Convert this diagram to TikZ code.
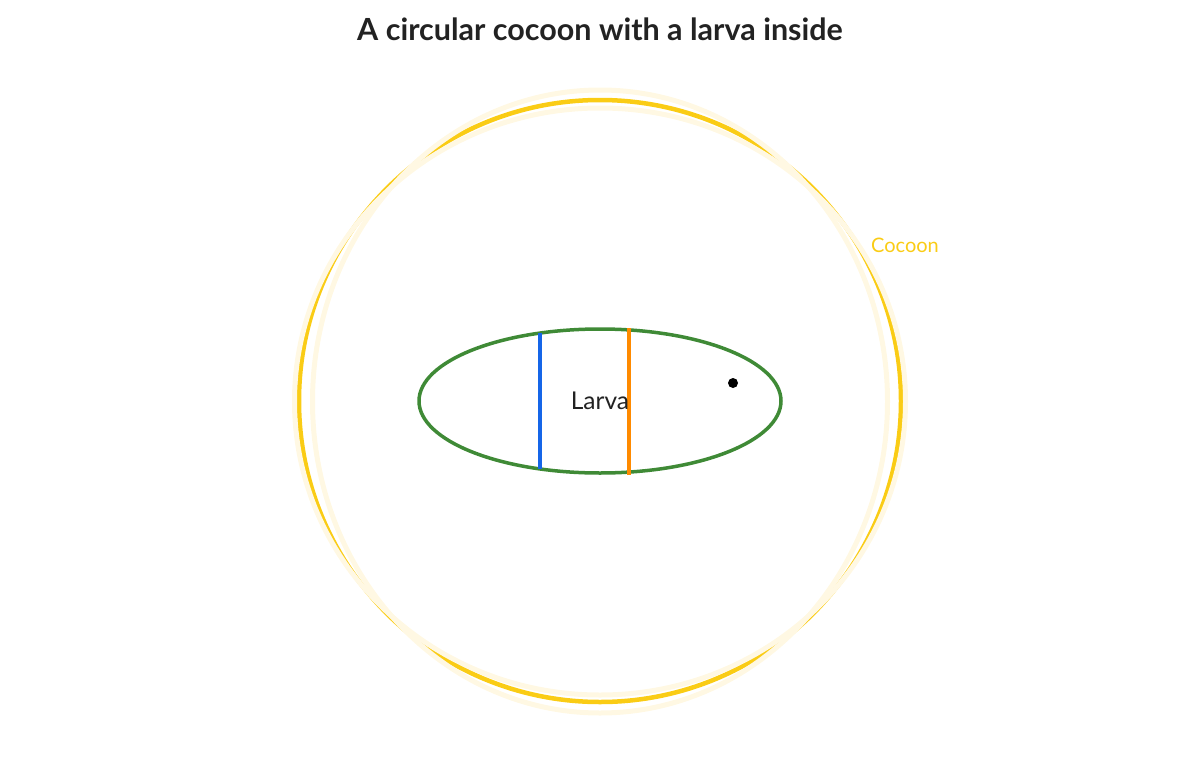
\documentclass[tikz,border=0pt]{standalone}
\usepackage{fontspec}
\setmainfont{Lato}
\definecolor{cocoonc}{HTML}{FACC15}
\definecolor{palec}{HTML}{FFF8E3}
\definecolor{larvac}{HTML}{3F8A36}
\definecolor{bluec}{HTML}{1565E8}
\definecolor{orangec}{HTML}{FF8A00}
\definecolor{textc}{HTML}{222222}
\tikzset{
  halo/.style={draw=palec, line width=5pt},
  shell/.style={draw=cocoonc, line width=4.5pt},
  body/.style={draw=larvac, line width=3.5pt},
  band/.style={line width=4.5pt},
}
\begin{document}
\begin{tikzpicture}[x=1pt,y=-1pt]
\useasboundingbox (0,0) rectangle (1200,763);
\node[font=\bfseries\fontsize{30.5}{36}\selectfont, text=textc] (title) at (600,29) {A circular cocoon with a larva inside};
\path[shell] (600,401) circle [radius=301];
\path[halo] (600,401.5) ellipse [x radius=305.5, y radius=293.5];
\path[halo] (600,401.5) ellipse [x radius=287.5, y radius=311.5];
\node[text=cocoonc, font=\fontsize{20}{24}\selectfont] (cocoonlabel) at (905,245) {Cocoon};
\path[body] (600,401) ellipse [x radius=181, y radius=72];
\coordinate (bt) at (540,333);
\coordinate (bb) at (540,469);
\coordinate (ot) at (629,328);
\coordinate (ob) at (629,475);
\draw[band, draw=bluec] (bt) -- (bb);
\draw[band, draw=orangec] (ot) -- (ob);
\node[font=\fontsize{24.5}{28}\selectfont, text=textc] (larvalabel) at (600,401) {Larva};
\fill[black] (733,383) circle [radius=5];
\end{tikzpicture}
\end{document}
